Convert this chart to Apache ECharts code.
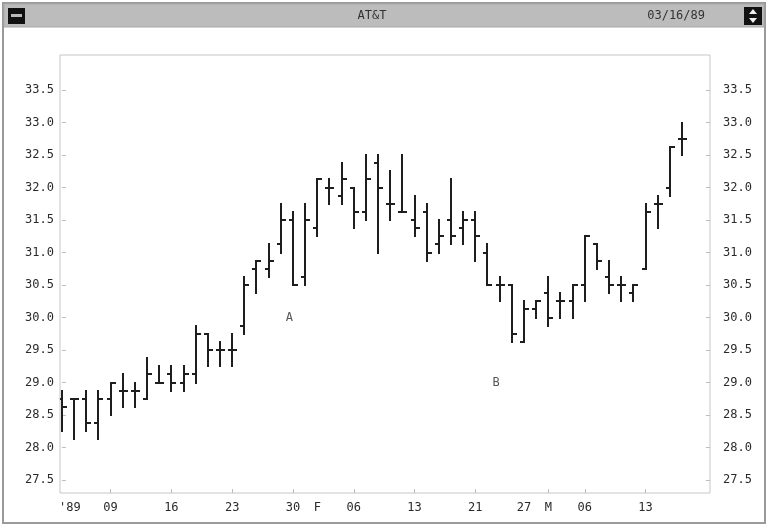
<!DOCTYPE html>
<html>
<head>
<meta charset="utf-8">
<script src="https://cdn.jsdelivr.net/npm/echarts@6/dist/echarts.min.js"></script>
<style>
html,body{margin:0;padding:0;background:#fff;}
#chart{width:768px;height:526px;}
</style>
</head>
<body>
<div id="chart"></div>
<script>
// ---- data (AT&T daily OHLC, Jan 3 - Mar 16 1989) ----
var dates = ['01-03','01-04','01-05','01-06','01-09','01-10','01-11','01-12','01-13','01-16',
             '01-17','01-18','01-19','01-20','01-23','01-24','01-25','01-26','01-27','01-30',
             '01-31','02-01','02-02','02-03','02-06','02-07','02-08','02-09','02-10','02-13',
             '02-14','02-15','02-16','02-17','02-21','02-22','02-23','02-24','02-27','02-28',
             '03-01','03-02','03-03','03-06','03-07','03-08','03-09','03-10','03-13','03-14',
             '03-15','03-16'];
var openP  = [28.75,28.75,28.75,28.375,28.75,28.875,28.875,28.75,29.0,29.125,
              29.0,29.125,29.75,29.5,29.5,29.875,30.75,30.75,31.125,31.5,
              30.625,31.375,32.0,31.875,32.0,31.625,32.375,31.75,31.625,31.5,
              31.625,31.125,31.5,31.375,31.5,31.0,30.5,30.5,29.625,30.125,
              30.375,30.25,30.25,30.5,31.125,30.625,30.5,30.375,30.75,31.75,
              32.0,32.75];
var highP  = [28.875,28.75,28.875,28.875,29.0,29.125,29.0,29.375,29.25,29.25,
              29.25,29.875,29.75,29.625,29.75,30.625,30.875,31.125,31.75,31.625,
              31.75,32.125,32.125,32.375,32.0,32.5,32.5,32.25,32.5,31.875,
              31.75,31.5,32.125,31.625,31.625,31.125,30.625,30.5,30.25,30.25,
              30.625,30.375,30.5,31.25,31.125,30.875,30.625,30.5,31.75,31.875,
              32.625,33.0];
var lowP   = [28.25,28.125,28.25,28.125,28.5,28.625,28.625,28.75,29.0,28.875,
              28.875,29.0,29.25,29.25,29.25,29.75,30.375,30.625,31.0,30.5,
              30.5,31.25,31.75,31.75,31.375,31.5,31.0,31.5,31.625,31.25,
              30.875,31.0,31.125,31.125,30.875,30.5,30.25,29.625,29.625,30.0,
              29.875,30.0,30.0,30.25,30.75,30.375,30.25,30.25,30.75,31.375,
              31.875,32.5];
var closeP = [28.625,28.75,28.375,28.75,29.0,28.875,28.875,29.125,29.0,29.0,
              29.125,29.75,29.5,29.5,29.5,30.5,30.875,30.875,31.5,30.5,
              31.5,32.125,32.0,32.125,31.625,32.125,32.0,31.75,31.625,31.375,
              31.0,31.25,31.25,31.5,31.25,30.5,30.5,29.75,30.125,30.25,
              30.0,30.25,30.5,31.25,30.875,30.5,30.5,30.5,31.625,31.75,
              32.625,32.75];
var yTickValues = [27.5,28.0,28.5,29.0,29.5,30.0,30.5,31.0,31.5,32.0,32.5,33.0,33.5];
var xLabelDates = ['01-03','01-09','01-16','01-23','01-30','02-01','02-06','02-13','02-21','02-27','03-01','03-06','03-13'];
var xLabelTexts = ["'89",'09','16','23','30','F','06','13','21','27','M','06','13'];
var xTickDates  = ['01-09','01-16','01-23','01-30','02-06','02-13','02-21','03-01','03-06','03-13'];
var notes = [{name:'A', date:'01-27', offsetDays:0.7, price:30.0},
             {name:'B', date:'02-22', offsetDays:0.7, price:29.0}];
var titleText = 'AT&T';
var dateText = '03/16/89';

// ---- build ----
var ohlc = dates.map(function(d,i){ return [i, openP[i], highP[i], lowP[i], closeP[i]]; });
var labelIdx = xLabelDates.map(function(d){ return dates.indexOf(d); });
var tickIdx = xTickDates.map(function(d){ return dates.indexOf(d); });
var noteData = notes.map(function(n){ return {name:n.name, value:[dates.indexOf(n.date)+n.offsetDays, n.price]}; });

var FONT = '"DejaVu Sans Mono", monospace';
var INK = '#1e1e1e';
var chart = echarts.init(document.getElementById('chart'), null, {renderer:'canvas'});

var yAxisCommon = {
  type:'value', min:27.3, max:34.04,
  splitLine:{show:false},
  axisLine:{show:false},
  axisTick:{show:true, inside:true, length:4, customValues:yTickValues, lineStyle:{color:'#bdbdbd'}},
  axisLabel:{show:true, customValues:yTickValues, fontFamily:FONT, fontSize:12, color:'#2a2a2a',
             formatter:function(v){ return v.toFixed(1); }}
};

chart.setOption({
  animation:false,
  backgroundColor:'#ffffff',
  grid:{left:60, right:58, top:55, bottom:33, show:true, borderColor:'#c6c6c6', borderWidth:1, backgroundColor:'transparent'},
  xAxis:{
    type:'value', min:-0.16, max:53.3,
    splitLine:{show:false},
    axisLine:{show:false},
    axisTick:{show:true, inside:true, length:4, customValues:tickIdx, lineStyle:{color:'#bdbdbd'}},
    axisLabel:{show:true, customValues:labelIdx, margin:9, fontFamily:FONT, fontSize:12, color:'#2a2a2a',
      formatter:function(v){
        var k = labelIdx.indexOf(Math.round(v));
        if (k < 0) return '';
        return k === 0 ? '{yr|' + xLabelTexts[k] + '}' : xLabelTexts[k];
      },
      rich:{yr:{fontFamily:FONT, fontSize:12, color:'#2a2a2a', padding:[0,0,0,16]}}
    }
  },
  yAxis:[
    Object.assign({}, yAxisCommon, {position:'left', axisLabel:Object.assign({}, yAxisCommon.axisLabel, {margin:6})}),
    Object.assign({}, yAxisCommon, {position:'right', axisLabel:Object.assign({}, yAxisCommon.axisLabel, {margin:13})})
  ],
  series:[
    {
      type:'custom',
      clip:true,
      silent:true,
      data:ohlc,
      encode:{x:0, y:[1,2,3,4]},
      renderItem:function(params, api){
        var x = api.value(0);
        var o = api.coord([x, api.value(1)]);
        var h = api.coord([x, api.value(2)]);
        var l = api.coord([x, api.value(3)]);
        var c = api.coord([x, api.value(4)]);
        var px = Math.round(h[0]);
        var st = {stroke:INK, lineWidth:2};
        return {type:'group', children:[
          {type:'line', shape:{x1:px, y1:Math.round(h[1])-1, x2:px, y2:Math.round(l[1])+1}, style:st},
          {type:'line', shape:{x1:px-4, y1:Math.round(o[1]), x2:px, y2:Math.round(o[1])}, style:st},
          {type:'line', shape:{x1:px, y1:Math.round(c[1]), x2:px+5, y2:Math.round(c[1])}, style:st}
        ]};
      }
    },
    {
      type:'scatter',
      silent:true,
      symbolSize:2,
      itemStyle:{color:'rgba(0,0,0,0)'},
      data:noteData,
      label:{show:true, position:'inside', formatter:'{b}', fontFamily:FONT, fontSize:12, color:'#2a2a2a'}
    }
  ],
  graphic:[
    // window frame
    {type:'rect', shape:{x:3, y:3, width:762, height:520}, style:{fill:'none', stroke:'#9a9a9a', lineWidth:2}, silent:true},
    // title bar
    {type:'rect', shape:{x:4, y:4, width:760, height:23}, style:{fill:'#bcbcbc', stroke:'#a8a8a8', lineWidth:1}, silent:true},
    {type:'rect', shape:{x:8, y:8, width:17, height:16}, style:{fill:'#111'}, silent:true},
    {type:'rect', shape:{x:11, y:14, width:11, height:3}, style:{fill:'#bbb'}, silent:true},
    {type:'rect', shape:{x:744, y:7, width:18, height:18}, style:{fill:'#111'}, silent:true},
    {type:'polygon', shape:{points:[[753,9],[749,14],[757,14]]}, style:{fill:'#eee'}, silent:true},
    {type:'polygon', shape:{points:[[753,23],[749,18],[757,18]]}, style:{fill:'#eee'}, silent:true},
    {type:'text', x:372, y:16, style:{text:titleText, font:'12px ' + FONT, fill:'#333', align:'center', verticalAlign:'middle'}, silent:true},
    {type:'text', x:705, y:16, style:{text:dateText, font:'12px ' + FONT, fill:'#333', align:'right', verticalAlign:'middle'}, silent:true}
  ]
});
</script>
</body>
</html>
